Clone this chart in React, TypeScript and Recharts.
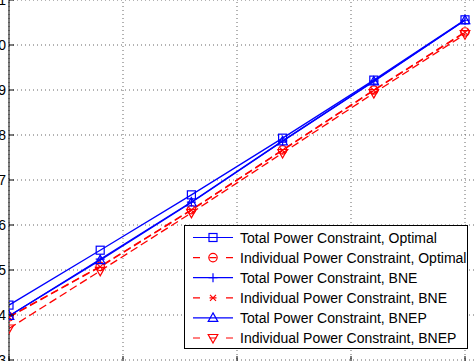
import React from 'react';
import { LineChart, Line, XAxis, YAxis, CartesianGrid, Legend } from 'recharts';

const snr = [0, 4, 8, 12, 16, 20];
const totalOptimal = [4.22, 5.44, 6.67, 7.93, 9.22, 10.56];
const individualOptimal = [3.96, 5.08, 6.34, 7.67, 9.0, 10.29];
const totalBNE = [3.98, 5.24, 6.51, 7.87, 9.2, 10.55];
const individualBNE = [3.95, 5.07, 6.33, 7.66, 8.99, 10.28];
const totalBNEP = [3.98, 5.22, 6.5, 7.86, 9.19, 10.55];
const individualBNEP = [3.7, 4.98, 6.27, 7.6, 8.93, 10.24];

const xTicks = [0, 5, 10, 15, 20];
const yTicks = [3, 4, 5, 6, 7, 8, 9, 10, 11];

const seriesLabels = [
  'Total Power Constraint, Optimal',
  'Individual Power Constraint, Optimal',
  'Total Power Constraint, BNE',
  'Individual Power Constraint, BNE',
  'Total Power Constraint, BNEP',
  'Individual Power Constraint, BNEP',
];

const BLUE = '#0000ff';
const RED = '#ff0000';
const FONT = '"Liberation Sans", Arial, Helvetica, sans-serif';

type Shape = 'square' | 'circle' | 'plus' | 'x' | 'tri' | 'tridown';

const series: { key: string; values: number[]; color: string; shape: Shape; dashed: boolean }[] = [
  { key: 'to', values: totalOptimal, color: BLUE, shape: 'square', dashed: false },
  { key: 'io', values: individualOptimal, color: RED, shape: 'circle', dashed: true },
  { key: 'tb', values: totalBNE, color: BLUE, shape: 'plus', dashed: false },
  { key: 'ib', values: individualBNE, color: RED, shape: 'x', dashed: true },
  { key: 'tp', values: totalBNEP, color: BLUE, shape: 'tri', dashed: false },
  { key: 'ip', values: individualBNEP, color: RED, shape: 'tridown', dashed: true },
];

const data = snr.map((x, i) => {
  const row: Record<string, number> = { x };
  series.forEach((s) => {
    row[s.key] = s.values[i];
  });
  return row;
});

function Marker({ shape, cx, cy, color }: { shape: Shape; cx: number; cy: number; color: string }) {
  const common = { fill: 'none', stroke: color, strokeWidth: 1.2 };
  switch (shape) {
    case 'square':
      return <rect x={cx - 4} y={cy - 4} width={8} height={8} {...common} />;
    case 'circle':
      return <circle cx={cx} cy={cy} r={4.2} {...common} />;
    case 'plus':
      return <path d={`M${cx - 4.5},${cy}H${cx + 4.5}M${cx},${cy - 4.5}V${cy + 4.5}`} {...common} />;
    case 'x':
      return <path d={`M${cx - 3},${cy - 3}L${cx + 3},${cy + 3}M${cx - 3},${cy + 3}L${cx + 3},${cy - 3}`} {...common} />;
    case 'tri':
      return <path d={`M${cx},${cy - 5}L${cx + 4.8},${cy + 3.5}L${cx - 4.8},${cy + 3.5}Z`} {...common} />;
    case 'tridown':
    default:
      return <path d={`M${cx},${cy + 5}L${cx + 4.8},${cy - 3.5}L${cx - 4.8},${cy - 3.5}Z`} {...common} />;
  }
}

function LegendBox() {
  const w = 283;
  const h = 123;
  return (
    <svg width={w + 1} height={h + 1} style={{ display: 'block' }}>
      <rect x={0.5} y={0.5} width={w} height={h} fill="#fff" stroke="#000" strokeWidth={1} />
      {series.map((s, i) => {
        const cy = 12.5 + i * 20.1;
        return (
          <g key={s.key}>
            <line
              x1={9}
              x2={49}
              y1={cy}
              y2={cy}
              stroke={s.color}
              strokeWidth={1.2}
              strokeDasharray={s.dashed ? '7 9.5' : undefined}
            />
            <Marker shape={s.shape} cx={29} cy={cy} color={s.color} />
            <text x={56} y={cy + 5} fontSize={14} fontFamily={FONT} fill="#000">
              {seriesLabels[i]}
            </text>
          </g>
        );
      })}
    </svg>
  );
}

const YTick = (props: any) => {
  const { x, y, payload } = props;
  return (
    <g>
      <text x={x} y={y} dy={5} textAnchor="end" fontSize={14} fontFamily={FONT} fill="#000">
        {payload.value}
      </text>
      <line x1={x + 3} x2={x + 8} y1={y} y2={y} stroke="#000" strokeWidth={1} />
    </g>
  );
};

const XTick = (props: any) => {
  const { x, y } = props;
  return <line x1={x} x2={x} y1={y} y2={y - 6} stroke="#000" strokeWidth={1} />;
};

export default function App() {
  return (
    <div
      style={{
        position: 'absolute',
        left: 0,
        top: 0,
        width: 474,
        height: 361,
        overflow: 'hidden',
        background: '#fff',
      }}
    >
      <div style={{ position: 'absolute', left: -31, top: -18 }}>
        <LineChart width={520} height={390} data={data} margin={{ top: 0, right: 1.2, bottom: 0, left: 0 }}>
          <CartesianGrid stroke="#666" strokeDasharray="1 3" />
          <XAxis
            dataKey="x"
            type="number"
            domain={[0, 21]}
            ticks={xTicks}
            interval={0}
            height={10}
            tickSize={0}
            tickMargin={0}
            tickLine={false}
            axisLine={{ stroke: '#000' }}
            tick={XTick}
            allowDataOverflow
          />
          <YAxis
            type="number"
            domain={[11 - 362 / 45, 11.4]}
            ticks={yTicks}
            interval={0}
            width={40}
            tickSize={0}
            tickMargin={3}
            tickLine={false}
            axisLine={{ stroke: '#000' }}
            tick={YTick}
            allowDataOverflow
          />
          {series.map((s) => (
            <Line
              key={s.key}
              dataKey={s.key}
              type="linear"
              stroke={s.color}
              strokeWidth={1.3}
              strokeDasharray={s.dashed ? '8 4' : undefined}
              isAnimationActive={false}
              dot={(p: any) => (
                <g key={`${s.key}-${p.index}`}>
                  <Marker shape={s.shape} cx={p.cx} cy={p.cy} color={s.color} />
                </g>
              )}
              activeDot={false}
            />
          ))}
          <Legend
            layout="horizontal"
            verticalAlign="middle"
            align="center"
            content={() => <LegendBox />}
            wrapperStyle={{ left: 215, top: 243, width: 284, height: 124 }}
          />
        </LineChart>
      </div>
    </div>
  );
}
